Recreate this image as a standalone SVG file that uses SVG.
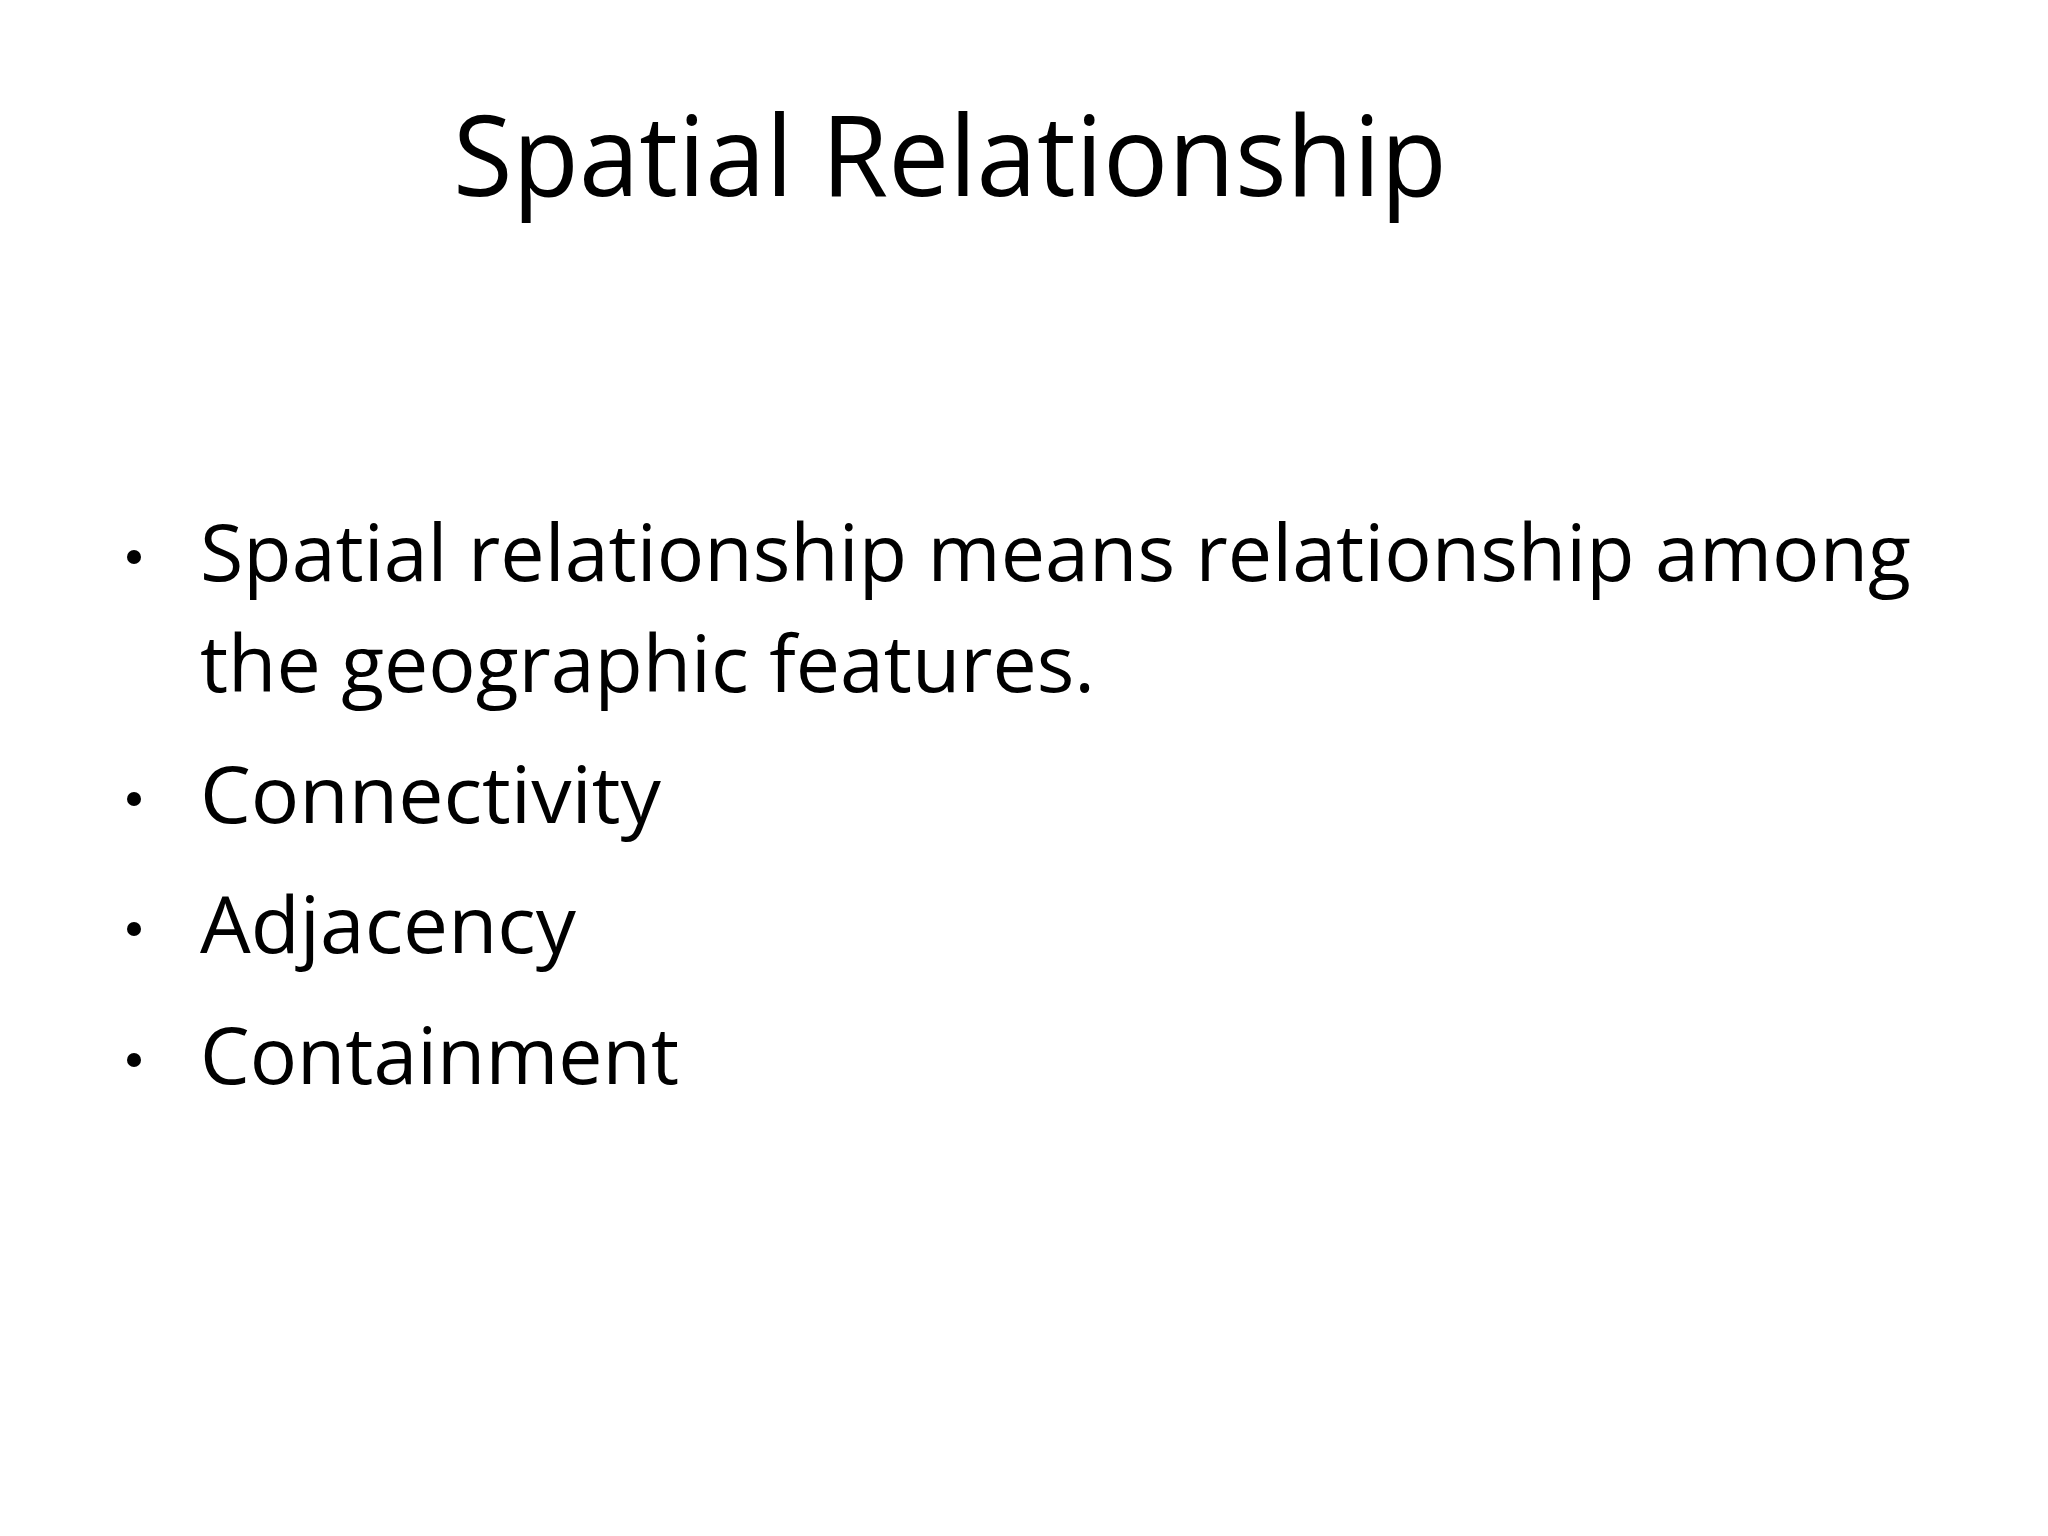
<svg xmlns="http://www.w3.org/2000/svg" width="2048" height="1536" viewBox="0 0 2048 1536">
<style>
text{font-family:"Open Sans","Noto Sans",sans-serif;fill:#000}
.t{font-size:112px}
.b{font-size:78px}
</style>
<rect width="2048" height="1536" fill="#fff"/>
<g id="title"><text class="t" x="453" y="196" textLength="994" lengthAdjust="spacingAndGlyphs">Spatial Relationship</text></g>
<g id="bullets">
<circle cx="134" cy="557" r="7"/>
<text class="b" x="200" y="581" textLength="1711" lengthAdjust="spacingAndGlyphs">Spatial relationship means relationship among</text>
<text class="b" x="200" y="692" textLength="895" lengthAdjust="spacingAndGlyphs">the geographic features.</text>
<circle cx="134" cy="799" r="7"/>
<text class="b" x="200" y="823" textLength="461" lengthAdjust="spacingAndGlyphs">Connectivity</text>
<circle cx="134" cy="929" r="7"/>
<text class="b" x="200" y="953" textLength="376" lengthAdjust="spacingAndGlyphs">Adjacency</text>
<circle cx="134" cy="1060" r="7"/>
<text class="b" x="200" y="1084" textLength="479" lengthAdjust="spacingAndGlyphs">Containment</text>
</g>
</svg>
